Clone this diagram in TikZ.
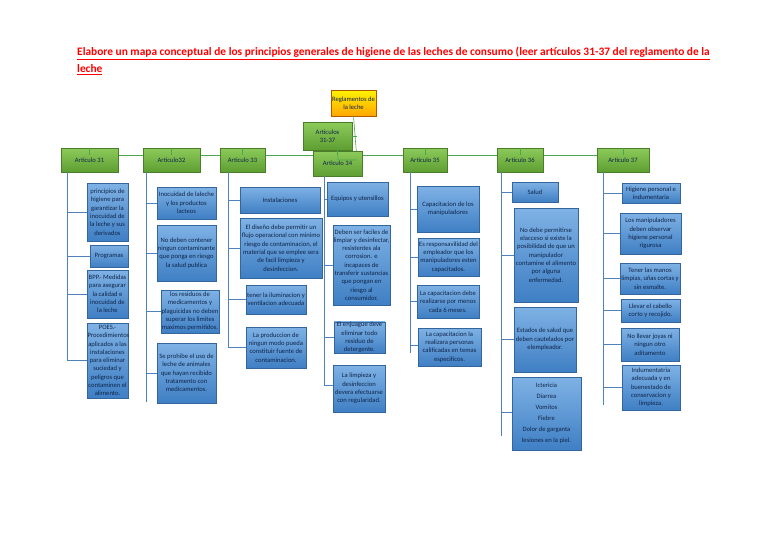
\documentclass[tikz,border=0pt]{standalone}
\usepackage{fontspec}
\setmainfont{Carlito}[BoldFont=Carlito Bold]
\usetikzlibrary{shadows}
\definecolor{bluetop}{HTML}{7FB2E5}
\definecolor{bluebot}{HTML}{3F7FC4}
\definecolor{greentop}{HTML}{8CCB5A}
\definecolor{greenbot}{HTML}{5E9E32}
\definecolor{navy}{HTML}{10254A}
\definecolor{linecol}{HTML}{4F81BD}
\tikzset{
 bb/.style={draw=bluebot!80!black, line width=0.3pt, top color=bluetop, bottom color=bluebot, drop shadow={shadow xshift=1pt,shadow yshift=-1pt,opacity=0.4}, font=\fontsize{6.6}{8.3}\selectfont, text=navy, align=flush center, inner sep=0.5pt},
 gb/.style={bb, draw=greenbot!80!black, top color=greentop, bottom color=greenbot},
 yb/.style={gb, top color=yellow!90!orange, bottom color=orange!70!yellow, draw=orange!70!black},
 bl/.style={linecol, line width=0.6pt},
 gl/.style={green!50!black!70, line width=0.6pt},
}
\newcommand{\bx}[7]{\node[#1, minimum width=#4-#3, minimum height=#6-#5, text width=#4-#3-1] (#2) at ({(#3+#4)/2},{(#5+#6)/2}) {#7};}
\begin{document}
\begin{tikzpicture}[x=1pt,y=-1pt]
\useasboundingbox (0,0) rectangle (768,543);
\node[anchor=west, text=red, font=\fontsize{11.4}{17}\selectfont\bfseries, align=left, inner sep=0] (title) at (77,61) {\underline{Elabore un mapa conceptual de los principios generales de higiene de las leches de consumo (leer artículos 31-37 del reglamento de la}\\\underline{leche}};
\bx{yb}{reg}{331}{376}{90}{116}{Reglamentos de la leche}
\node[gb, minimum width=49, minimum height=28, text width=36] (arts) at (327.5,136) {Articulos 31-37};
\draw[gl] (reg.south) -- (357,160) coordinate (hub);
\draw[gl] (85,155) coordinate (hl) -- (643,155) coordinate (hr);
\draw[gl] (arts.east) -- (357,136);
\foreach \n/\a/\b/\c/\d/\t in {a31/61/118/148/172/Articulo 31, a32/143/200/148/172/Articulo32, a33/220/265/148/172/Articulo 33, a34/313/362/151/176/Articulo 34, a35/403/447/148/172/Articulo 35, a36/497/543/148/172/Articulo 36, a37/597/649/148/172/Articulo 37}{
 \bx{gb}{\n}{\a}{\b}{\c}{\d}{\t}
 \draw[gl] (\n.north) -- (\n.north |- hl);
}
\draw[gl] (a34.north) ++(0,-4) -- (338,160) -- (hub);
\newcommand{\col}[3]{\draw[bl] (#1.south west) ++(#2,0) coordinate (#1l) -- ++(0,#3);}
\col{a31}{6}{188}
\col{a32}{3}{230}
\col{a33}{8}{175}
\col{a34}{11}{209}
\col{a35}{7}{181}
\col{a36}{4}{264}
\col{a37}{6}{233}
\newcommand{\ch}[2]{\draw[bl] (#1.west) -- (#1.west -| #2l);}
% Art 31
\bx{bb}{c11}{87}{128}{183}{241}{principios de higiene para garantizar la inocuidad de la leche y sus derivados}
\bx{bb}{c12}{90}{128}{245}{267}{Programas}
\bx{bb}{c13}{87}{128}{270}{318}{BPP.- Medidas para asegurar la calidad e inocuidad de la leche}
\bx{bb}{c14}{87}{128}{323}{398}{POES.-\\Procedimientos aplicados a las instalaciones para eliminar suciedad y peligros que contaminen el alimento.}
\foreach \c in {c11,c12,c13}{\ch{\c}{a31}}
\draw[bl] (c14.west|-0,360) -- (a31l|-0,360);
% Art 32
\bx{bb}{c21}{157}{216}{187}{219}{Inocuidad de laleche y los productos lacteos}
\bx{bb}{c22}{157}{216}{225}{281}{No deben contener ningun contaminante que ponga en riesgo la salud publica}
\bx{bb}{c23}{161}{219}{290}{333}{los residuos de medicamentos y plaguicidas no deben superar los limites maximos permitidos.}
\bx{bb}{c24}{157}{216}{343}{403}{Se prohibe el uso de leche de animales que hayan recibido tratamento con medicamentos.}
\foreach \c in {c21,c22,c23}{\ch{\c}{a32}}
\draw[bl] (c24.west|-0,373) -- (a32l|-0,373) ;
% Art 33
\bx{bb}{c31}{240}{320}{187}{213}{Instalaciones}
\bx{bb}{c32}{240}{322}{218}{278}{El diseño debe permitir un flujo operacional con minimo riesgo de contaminacion, el material que se emplee sera de facil limpieza y desinfeccion.}
\bx{bb}{c33}{246}{306}{285}{314}{tener la iluminacion y ventilacion adecuada}
\bx{bb}{c34}{246}{306}{327}{368}{La produccion de ningun modo pueda constituir fuente de contaminacion.}
\foreach \c in {c31,c32,c33,c34}{\ch{\c}{a33}}
% Art 34
\bx{bb}{c41}{327}{388}{182}{216}{Equipos y utensillos}
\bx{bb}{c42}{333}{390}{225}{305}{Deben ser faciles de limpiar y desinfectar, resistentes ala corrosion. e incapaces de transferir sustancias que pongan en riesgo al consumidor.}
\bx{bb}{c43}{334}{385}{322}{353}{El enjuague deve eliminar todo residuo de detergente.}
\bx{bb}{c44}{333}{385}{365}{412}{La limpieza y desinfeccion devera efectuarse con regularidad.}
\foreach \c in {c41,c42,c43}{\ch{\c}{a34}}
\draw[bl] (c44.west|-0,385) -- (a34l|-0,385);
% Art 35
\bx{bb}{c51}{417}{479}{186}{232}{Capacitacion de los manipuladores}
\bx{bb}{c52}{418}{479}{238}{276}{Es responsavilidad del empleador que los manipuladores esten capacitados.}
\bx{bb}{c53}{417}{479}{285}{318}{La capacitacion debe realizarse por menos cada 6 meses.}
\bx{bb}{c54}{418}{481}{328}{366}{La capacitacion la realizara personas calificadas en temas especificos.}
\foreach \c in {c51,c52,c53}{\ch{\c}{a35}}
\draw[bl] (c54.west|-0,345) -- (a35l|-0,345);
% Art 36
\bx{bb}{c61}{512}{558}{182}{202}{Salud}
\bx{bb}{c62}{514}{578}{208}{302}{No debe permitirse elacceso si existe la posibilidad de que un manipulador contamine el alimento por alguna enfermedad.}
\bx{bb}{c63}{514}{576}{307}{372}{Estados de salud que deben cautelados por elempleador.}
\node[bb, minimum width=69, minimum height=73, text width=67, font=\fontsize{6.6}{11}\selectfont] (c64) at (546.5,413.5) {Ictericia\\Diarrea\\Vomitos\\Fiebre\\Dolor de garganta\\lesiones en la piel.};
\foreach \c in {c61,c62,c63}{\ch{\c}{a36}}
\draw[bl] (c64.west|-0,412) -- (a36l|-0,412);
% Art 37
\bx{bb}{c71}{622}{680}{183}{203}{Higiene personal e indumentaria}
\bx{bb}{c72}{620}{681}{213}{254}{Los manipuladores deben observar higiene personal rigurosa}
\bx{bb}{c73}{620}{680}{263}{294}{Tener las manos limpias, uñas cortas y sin esmalte.}
\bx{bb}{c74}{621}{680}{299}{322}{Llevar el cabello corto y recojido.}
\bx{bb}{c75}{621}{679}{328}{361}{No llevar joyas ni ningun otro aditamento}
\bx{bb}{c76}{622}{680}{365}{410}{Indumentatria adecuada y en buenestado de conservacion y limpieza.}
\foreach \c in {c71,c72,c73,c74,c75,c76}{\ch{\c}{a37}}
\end{tikzpicture}
\end{document}
